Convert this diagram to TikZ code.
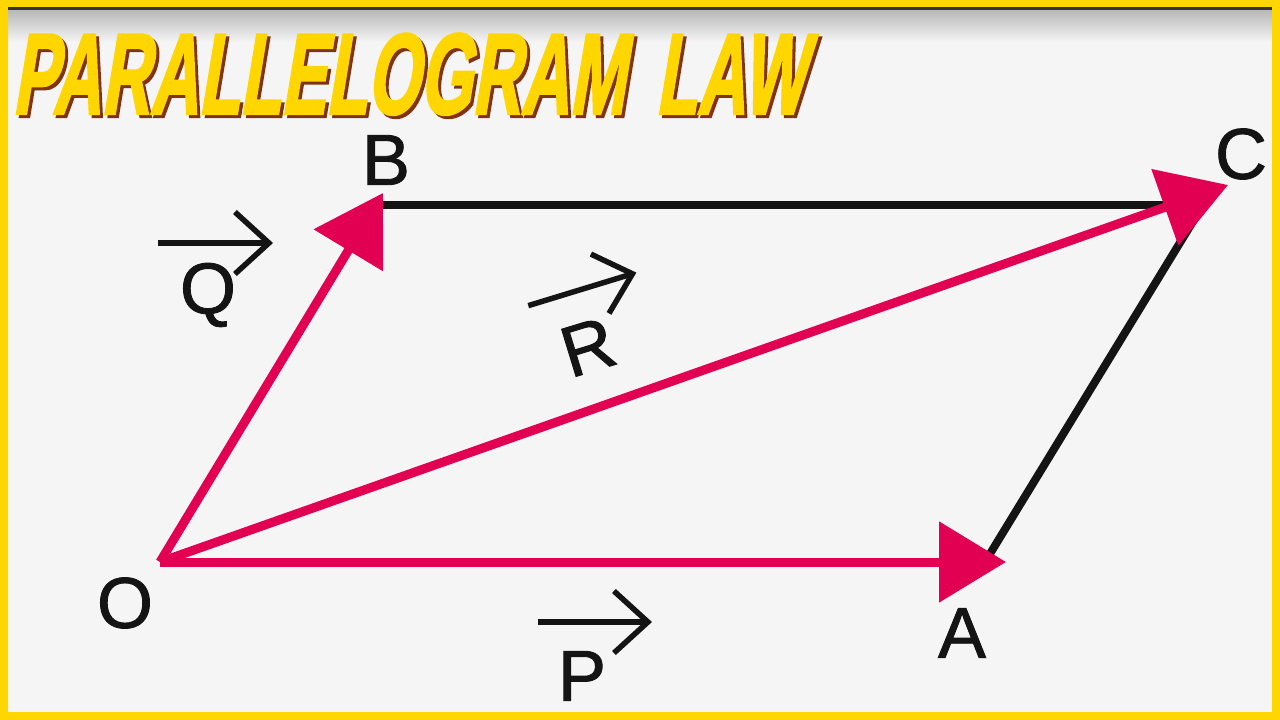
\documentclass[tikz,border=0pt]{standalone}
\usepackage{fontspec}
\usepackage{graphicx}
\setmainfont{Liberation Sans}
\newfontfamily\titlefont[FakeSlant=0.28,FakeBold=2.5]{Liberation Sans}
\newfontfamily\labfont[FakeBold=1.2]{Liberation Sans}
\usetikzlibrary{arrows.meta}
\definecolor{vred}{RGB}{226,0,82}
\definecolor{bgc}{RGB}{245,245,245}
\definecolor{framec}{RGB}{255,214,0}
\definecolor{shadowc}{RGB}{130,50,20}
\definecolor{ink}{RGB}{20,20,20}
\begin{document}
\begin{tikzpicture}[x=1pt,y=-1pt,
  vec/.style={draw=vred,line width=9pt,line join=miter,-{Triangle[length=67pt,width=79pt]}},
  side/.style={draw=ink,line width=8pt},
  lab/.style={font=\labfont\fontsize{72}{72}\selectfont,text=ink,inner sep=0pt},
  labarrow/.style={draw=ink,line width=5.5pt,-{Straight Barb[length=34pt,width=62pt]}},
  titletext/.style={anchor=south west,inner sep=0pt}
]
\useasboundingbox (0,0) rectangle (1280,720);
% background
\fill[bgc] (0,0) rectangle (1280,720);
\shade[top color=black!28,bottom color=bgc] (8,10) rectangle (1272,42);
% frame
\fill[framec,even odd rule] (0,0) rectangle (1280,720) (8,7) rectangle (1272,712);
\fill[black!80] (8,7) rectangle (1272,10);

% title (shadow + face)
\node[titletext] (titleshadow) at (15,118) {\color{shadowc}\resizebox{793pt}{80pt}{\titlefont\bfseries PARALLELOGRAM\hspace{0.45em}LAW}};
\node[titletext] (title) at (12,115) {\color{framec}\resizebox{793pt}{80pt}{\titlefont\bfseries PARALLELOGRAM\hspace{0.45em}LAW}};

% vertices
\coordinate (O) at (160,562);
\coordinate (A) at (985,562);
\coordinate (B) at (378,205);
\coordinate (C) at (1203,205);
\coordinate (Ptip) at (1006,562);
\coordinate (Qtip) at (383,193);
\coordinate (Rtip) at (1228,185);

% black sides
\draw[side] (B) -- (C);
\draw[side] (A) -- (C);

% red vectors
\draw[vec] (O) -- (Ptip);
\draw[vec] (O) -- (Qtip);
\draw[vec] (O) -- (Rtip);

% vertex labels
\node[lab] (Olab) at (125,603) {O};
\node[lab] (Alab) at (962,633) {A};
\node[lab] (Blab) at (386,160) {B};
\node[lab] (Clab) at (1241,154) {C};

% vector labels
\node[lab] (Qlab) at (208,295) {Q};
\begin{scope}[shift={(Qlab.center)}]
  \draw[labarrow] (-50,-52) -- (65,-52);
\end{scope}
\node[lab] (Plab) at (582,676) {P};
\begin{scope}[shift={(Plab.center)}]
  \draw[labarrow] (-44,-54) -- (70,-54);
\end{scope}
\node[lab,rotate=17] (Rlab) at (588,347) {R};
\begin{scope}[shift={(Rlab.center)},rotate=17]
  \draw[labarrow] (-45,-57) -- (68,-57);
\end{scope}
\end{tikzpicture}
\end{document}
